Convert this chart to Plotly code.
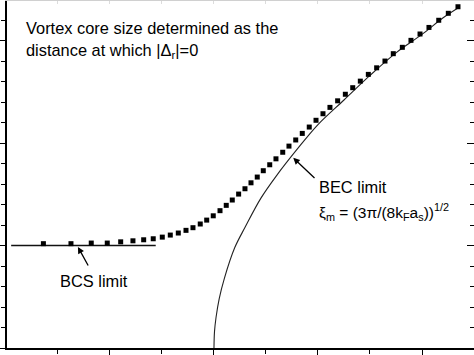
import plotly.graph_objects as go

# Data (x = 1/(kF a), y = core size)
data_x = [-1.64, -1.375, -1.18, -1.026, -0.897, -0.779, -0.676, -0.584, -0.497, -0.42,
          -0.343, -0.269, -0.202, -0.132, -0.07, -0.007, 0.058, 0.118, 0.176, 0.237,
          0.298, 0.356, 0.416, 0.474, 0.536, 0.596, 0.661, 0.721, 0.786, 0.849,
          0.916, 0.981, 1.048, 1.115, 1.189, 1.263, 1.334, 1.407, 1.484, 1.564,
          1.644, 1.724, 1.811, 1.894, 1.981, 2.067, 2.161, 2.253, 2.346]
data_y = [0.509, 0.509, 0.512, 0.512, 0.518, 0.523, 0.528, 0.533, 0.541, 0.551,
          0.561, 0.574, 0.587, 0.605, 0.624, 0.645, 0.67, 0.696, 0.722, 0.751,
          0.777, 0.806, 0.834, 0.865, 0.894, 0.923, 0.955, 0.985, 1.015, 1.047,
          1.078, 1.111, 1.143, 1.174, 1.206, 1.238, 1.27, 1.302, 1.335, 1.367,
          1.4, 1.436, 1.467, 1.501, 1.532, 1.564, 1.599, 1.633, 1.665]

bec_x = [0.0, 0.005, 0.02, 0.05, 0.1, 0.2, 0.3, 0.45, 0.6, 0.8, 1.0, 1.25, 1.5, 1.75, 2.0, 2.2, 2.35]
bec_y = [0.0, 0.08, 0.15, 0.24, 0.34, 0.49, 0.59, 0.73, 0.84, 0.97, 1.09, 1.21, 1.33, 1.44, 1.53, 1.61, 1.66]

bcs_x = [-1.95, -0.56]
bcs_y = [0.5, 0.5]

x_range = [-1.99, 2.5]
y_range = [0.0, 1.693]

FONT = "Arial, Liberation Sans, sans-serif"

fig = go.Figure()
fig.add_trace(go.Scatter(x=bcs_x, y=bcs_y, mode="lines",
                         line=dict(color="#111", width=1.3), hoverinfo="skip"))
fig.add_trace(go.Scatter(x=bec_x, y=bec_y, mode="lines", line_shape="spline",
                         line=dict(color="#222", width=1.1), hoverinfo="skip"))
fig.add_trace(go.Scatter(x=data_x, y=data_y, mode="markers",
                         marker=dict(symbol="square", size=5, color="#000",
                                     line=dict(width=0))))
# dummy trace for mirrored (top/right) axes
fig.add_trace(go.Scatter(x=[None], y=[None], xaxis="x2", yaxis="y2",
                         mode="markers", showlegend=False, hoverinfo="skip"))

ann_font = dict(family=FONT, size=16.4, color="#000")
annotations = [
    dict(x=-1.83, y=1.563, text="Vortex core size determined as the",
         xanchor="left", yanchor="middle", font=ann_font),
    dict(x=-1.83, y=1.448, text="distance at which |Δ<sub>r</sub>|=0",
         xanchor="left", yanchor="middle", font=ann_font),
    dict(x=-1.154, y=0.325, text="BCS limit", xanchor="center", yanchor="middle",
         font=ann_font),
    dict(x=0.99, y=0.787, text="BEC limit", xanchor="left", yanchor="middle",
         font=ann_font),
    dict(x=0.99, y=0.662, text="ξ<sub>m</sub> = (3π/(8k<sub>F</sub>a<sub>s</sub>))<sup>1/2</sup>",
         xanchor="left", yanchor="middle", font=dict(family=FONT, size=15.5, color="#000")),
    dict(x=-1.308, y=0.493, ax=-1.202, ay=0.395, axref="x", ayref="y", text="",
         showarrow=True, arrowhead=2, arrowsize=1, arrowwidth=1.3, arrowcolor="#000"),
    dict(x=0.762, y=0.928, ax=0.981, ay=0.823, axref="x", ayref="y", text="",
         showarrow=True, arrowhead=2, arrowsize=1, arrowwidth=1.3, arrowcolor="#000"),
]
for a in annotations:
    a.setdefault("showarrow", False)
    a.setdefault("xref", "x")
    a.setdefault("yref", "y")

fig.update_layout(
    width=474, height=355,
    margin=dict(l=7, r=0, t=1, b=7),
    paper_bgcolor="white", plot_bgcolor="white",
    showlegend=False,
    annotations=annotations,
    xaxis=dict(range=x_range, showgrid=False, zeroline=False, showticklabels=False,
               showline=True, linecolor="#000", linewidth=1.5,
               ticks="outside", tick0=0, dtick=1, ticklen=7, tickwidth=1.3, tickcolor="#000",
               minor=dict(ticks="outside", dtick=0.5, ticklen=4, tickwidth=1.2, tickcolor="#000")),
    yaxis=dict(range=y_range, showgrid=False, zeroline=False, showticklabels=False,
               showline=True, linecolor="#000", linewidth=1.5,
               ticks="outside", tick0=0, dtick=0.5, ticklen=7, tickwidth=1.3, tickcolor="#000",
               minor=dict(ticks="outside", dtick=0.1, ticklen=4, tickwidth=1.2, tickcolor="#000")),
    xaxis2=dict(range=x_range, overlaying="x", side="top", anchor="y2",
                showgrid=False, zeroline=False, showticklabels=False,
                showline=True, linecolor="#d0d0d0", linewidth=2,
                ticks="inside", tick0=0, dtick=0.5, ticklen=3, tickcolor="#dcdcdc"),
    yaxis2=dict(range=y_range, overlaying="y", side="right", anchor="x2",
                showgrid=False, zeroline=False, showticklabels=False, showline=False,
                ticks="inside", tick0=0, dtick=0.5, ticklen=7, tickwidth=1.3, tickcolor="#000",
                minor=dict(ticks="inside", dtick=0.1, ticklen=4, tickwidth=1.2, tickcolor="#000")),
)

fig.write_html("out.html")
